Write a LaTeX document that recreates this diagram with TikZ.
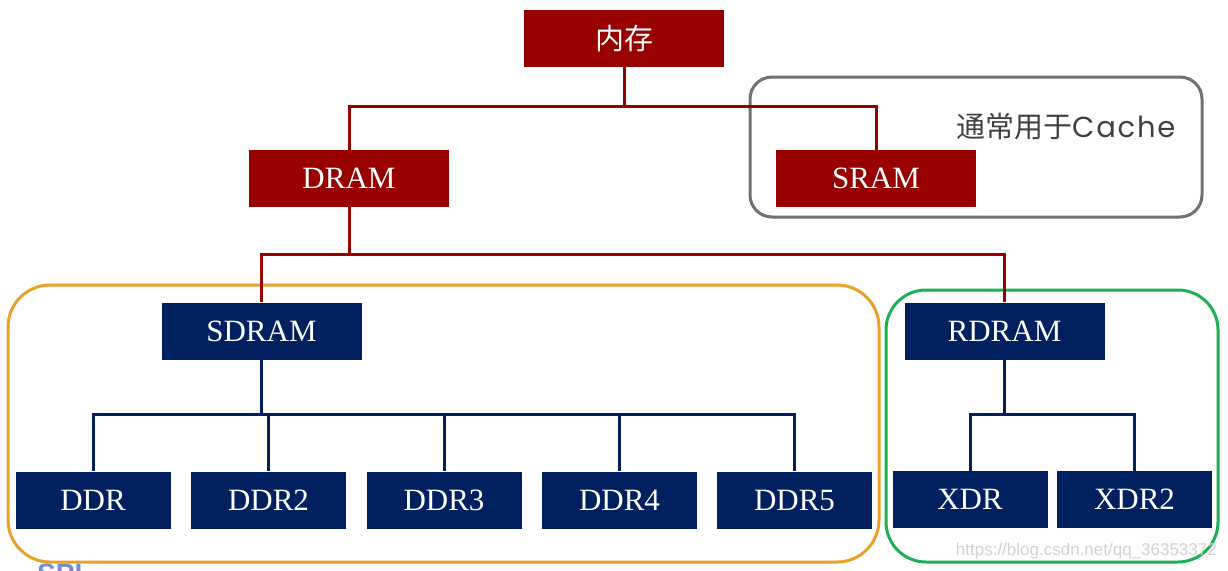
\documentclass[tikz,border=0pt]{standalone}
\usepackage{fontspec}
\setmainfont{Liberation Serif}
\newfontfamily\cjk{Noto Sans CJK SC}
\newfontfamily\geo[LetterSpace=6]{Poppins}
\newfontfamily\wmfont{Liberation Sans}
\definecolor{dred}{HTML}{990000}
\definecolor{navy}{HTML}{002060}
\definecolor{orng}{HTML}{EBA028}
\definecolor{grn}{HTML}{1EB050}
\definecolor{gbox}{HTML}{707070}
\definecolor{gtext}{HTML}{404040}
\definecolor{spiblue}{HTML}{6F8FCF}
\tikzset{
  redbox/.style={rectangle, fill=dred, text=white, inner sep=0pt, minimum width=200pt, minimum height=57pt, font=\fontsize{31}{31}\selectfont},
  bluebox/.style={rectangle, fill=navy, text=white, inner sep=0pt, minimum width=200pt, minimum height=57pt, font=\fontsize{31}{31}\selectfont},
  leafbox/.style={bluebox, minimum width=155pt, minimum height=57pt},
  redline/.style={draw=dred, line width=3pt},
  blueline/.style={draw=navy, line width=3pt},
  groupbox/.style={line width=3pt},
}
\begin{document}
\begin{tikzpicture}[x=1pt,y=-1pt]
\useasboundingbox (0,0) rectangle (1228,570);
% group frames
\draw[groupbox, draw=gbox, rounded corners=22pt] (750,77) rectangle (1202,217);
\draw[groupbox, draw=orng, rounded corners=42pt] (8,285) rectangle (879,562);
\draw[groupbox, draw=grn, rounded corners=40pt] (886,290) rectangle (1218,562);
% nodes
\node[redbox] (mem) at (624,38.5) {\cjk\fontsize{29}{29}\selectfont 内存};
\node[redbox] (dram) at (349,178.5) {DRAM};
\node[redbox] (sram) at (876,178.5) {SRAM};
\node[bluebox] (sdram) at (261.5,331) {SDRAM};
\node[bluebox] (rdram) at (1004.5,331) {RDRAM};
\node[leafbox] (ddr) at (93,500) {DDR};
\node[leafbox] (ddr2) at (268.5,500) {DDR2};
\node[leafbox] (ddr3) at (444,500) {DDR3};
\node[leafbox] (ddr4) at (619.5,500) {DDR4};
\node[leafbox] (ddr5) at (794.5,500) {DDR5};
\node[leafbox] (xdr) at (970,499.5) {XDR};
\node[leafbox] (xdr2) at (1134.5,499.5) {XDR2};
\node[text=gtext, font=\cjk\fontsize{29}{29}\selectfont, anchor=west, inner sep=0pt] (note) at (956,127) {通常用于{\geo\fontsize{29}{29}\selectfont Cache}};
% connectors
\coordinate (b1) at (624,106);
\coordinate (b2) at (349,254.5);
\coordinate (b3) at (261.5,414.5);
\coordinate (b4) at (1004.5,414);
\draw[redline] (mem.south) -- (b1);
\draw[redline] (dram.north) |- (b1) -| (sram.north);
\draw[redline] (dram.south) -- (b2);
\draw[redline] (sdram.north) |- (b2) -| (rdram.north);
\draw[blueline] (sdram.south) -- (b3);
\draw[blueline] (ddr.north) |- (b3) -| (ddr5.north);
\draw[blueline] (ddr2.north) -- (ddr2.north |- b3);
\draw[blueline] (ddr3.north) -- (ddr3.north |- b3);
\draw[blueline] (ddr4.north) -- (ddr4.north |- b3);
\draw[blueline] (rdram.south) -- (b4);
\draw[blueline] (xdr.north) |- (b4) -| (xdr2.north);
% watermark and cut-off text
\node[text=black!18, font=\wmfont\fontsize{17}{17}\selectfont, anchor=east, inner sep=0pt] (wm) at (1217,551) {https://blog.csdn.net/qq\_36353372};
\node[text=spiblue, font=\wmfont\bfseries\fontsize{28}{28}\selectfont, anchor=north west, inner sep=0pt] (spi) at (37,564) {SPI};
\end{tikzpicture}
\end{document}
